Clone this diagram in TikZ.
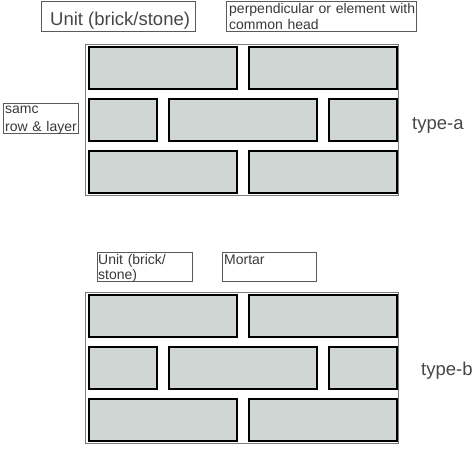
\documentclass[tikz,border=0pt]{standalone}
\usepackage{fontspec}
\setmainfont{Liberation Sans}
\definecolor{brickfill}{RGB}{207,214,212}
\definecolor{tagline}{RGB}{90,90,90}

\begin{document}
\begin{tikzpicture}[x=1pt,y=-1pt, 
    brick/.style={draw=black,line width=1.2pt,fill=brickfill},
    wall/.style={draw=tagline!80,line width=0.8pt,fill=white},
    tag/.style={draw=tagline,line width=0.8pt},
    lbl/.style={inner sep=0pt,anchor=base west,align=left,text=black!78},
    small/.style={font={\fontsize{14}{16}\selectfont}},
    big/.style={font={\fontsize{18.5}{20}\selectfont},text=black!72}]
\useasboundingbox (0,0) rectangle (474,450);

% the two walls, same bond
\foreach \dy in {0,248}{
\draw[wall] (85,44+\dy) rectangle (398,195+\dy);
\draw[brick] (89,47+\dy) rectangle (237,89+\dy);
\draw[brick] (249,47+\dy) rectangle (397,89+\dy);
\draw[brick] (89,99+\dy) rectangle (157,141+\dy);
\draw[brick] (169,99+\dy) rectangle (317,141+\dy);
\draw[brick] (329,99+\dy) rectangle (397,141+\dy);
\draw[brick] (89,151+\dy) rectangle (237,193+\dy);
\draw[brick] (249,151+\dy) rectangle (397,193+\dy);
}

% labels of type-a
\draw[tag] (41,1) rectangle (195,31);
\node[lbl,big] (unitA) at (50,25) {Unit (brick/stone)};
\draw[tag] (226,1) rectangle (416,31);
\node[lbl,small,text width=190pt] (perp) at (229,13)
    {perpendicular or element with\\common head};
\draw[tag] (3,103) rectangle (78,133);
\node[lbl,font={\fontsize{14}{18}\selectfont},text width=80pt] (same) at (5,113)
    {samc\\row \& layer};
\node[lbl,big] (typeA) at (412,129) {type-a};

% labels of type-b
\draw[tag] (97,252) rectangle (192,281);
\node[lbl,font={\fontsize{14}{15}\selectfont},text width=100pt] (unitB) at (98,264)
    {Unit (brick/\\stone)};
\draw[tag] (222,252) rectangle (316,281);
\node[lbl,small] (mortar) at (224,264) {Mortar};
\node[lbl,big] (typeB) at (421,375) {type-b};
\end{tikzpicture}
\end{document}
